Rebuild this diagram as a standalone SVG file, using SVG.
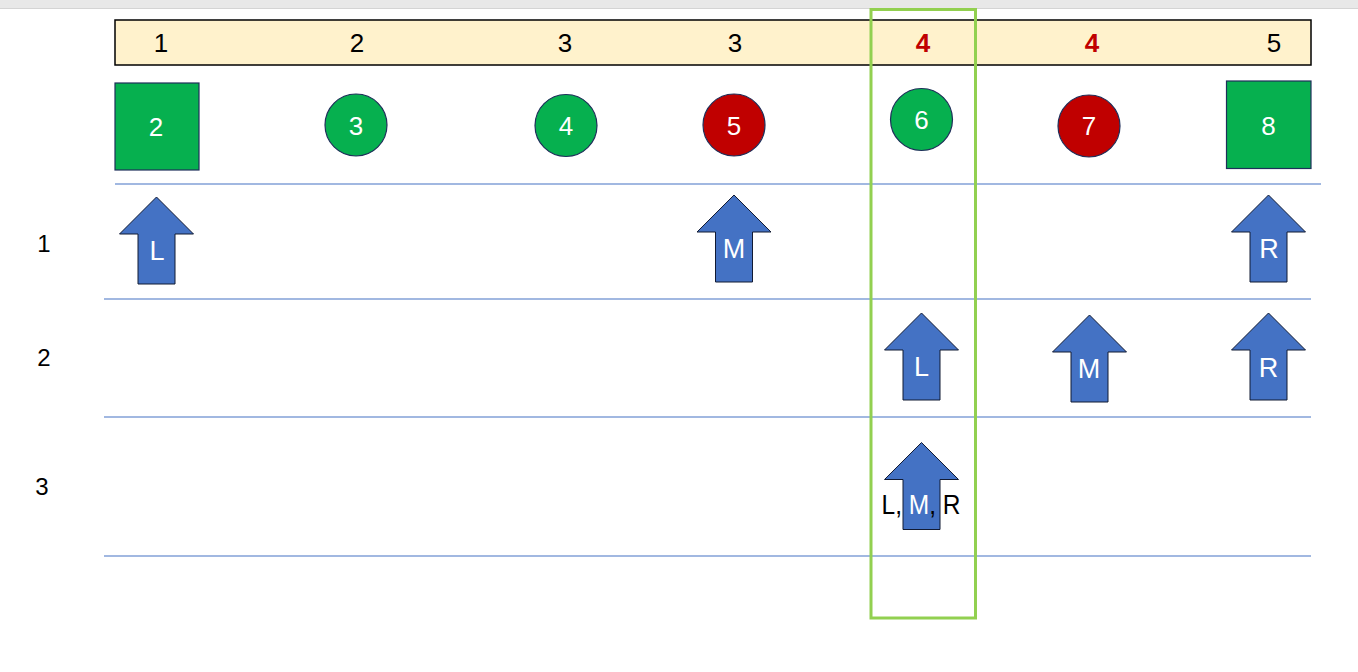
<svg xmlns="http://www.w3.org/2000/svg" width="1358" height="672" viewBox="0 0 1358 672">
  <style>
    .t { font-family: "Liberation Sans", Arial, sans-serif; text-anchor: middle; }
    .hdr { font-size: 26px; fill: #000000; }
    .hdr-red { font-size: 26px; fill: #c00000; font-weight: bold; }
    .row { font-size: 24px; fill: #000000; }
    .nl { font-size: 26px; fill: #ffffff; }
    .al { font-size: 27px; fill: #ffffff; }
    .green { fill: #06b04f; stroke: #1f2f5a; stroke-width: 1.2; }
    .red { fill: #c00000; stroke: #1f2f5a; stroke-width: 1.2; }
    .arrow { fill: #4472c4; stroke: #111a33; stroke-width: 1; }
    .hline { stroke: #4472c4; stroke-width: 1.1; }
  </style>
  <defs>
    <path id="uparrow" d="M0,0 L37,37 L18.5,37 L18.5,87 L-18.5,87 L-18.5,37 L-37,37 Z"/>
  </defs>

  <rect x="0" y="0" width="1358" height="672" fill="#ffffff"/>
  <rect x="0" y="0" width="1358" height="8" fill="#e8e8e8"/>
  <line x1="0" y1="8.5" x2="1358" y2="8.5" stroke="#d4d4d4" stroke-width="1"/>

  <!-- header bar -->
  <g id="header">
    <rect x="115" y="20" width="1196" height="45" fill="#fff2cc" stroke="#000000" stroke-width="1.5"/>
    <text class="t hdr" x="161" y="52">1</text>
    <text class="t hdr" x="357" y="52">2</text>
    <text class="t hdr" x="565" y="52">3</text>
    <text class="t hdr" x="735" y="52">3</text>
    <text class="t hdr-red" x="923" y="52">4</text>
    <text class="t hdr-red" x="1092" y="52">4</text>
    <text class="t hdr" x="1274" y="52">5</text>
  </g>

  <!-- row labels -->
  <g id="row-labels">
    <text class="t row" x="44" y="252">1</text>
    <text class="t row" x="44" y="366">2</text>
    <text class="t row" x="42" y="495">3</text>
  </g>

  <!-- grid lines -->
  <g id="connectors">
    <line class="hline" x1="115" y1="184" x2="1321" y2="184"/>
    <line class="hline" x1="104" y1="299" x2="1311" y2="299"/>
    <line class="hline" x1="104" y1="417" x2="1311" y2="417"/>
    <line class="hline" x1="104" y1="556" x2="1311" y2="556"/>
  </g>

  <!-- nodes -->
  <g id="node-2">
    <rect class="green" x="115" y="83" width="84" height="87"/>
    <text class="t nl" x="156" y="136">2</text>
  </g>
  <g id="node-3">
    <circle class="green" cx="356" cy="125" r="31"/>
    <text class="t nl" x="356" y="135">3</text>
  </g>
  <g id="node-4">
    <circle class="green" cx="566" cy="125.5" r="31"/>
    <text class="t nl" x="566" y="135">4</text>
  </g>
  <g id="node-5">
    <circle class="red" cx="734" cy="125" r="31"/>
    <text class="t nl" x="734" y="135">5</text>
  </g>
  <g id="node-6">
    <circle class="green" cx="921.5" cy="119.5" r="31"/>
    <text class="t nl" x="921.5" y="129">6</text>
  </g>
  <g id="node-7">
    <circle class="red" cx="1089" cy="126" r="31"/>
    <text class="t nl" x="1089" y="135">7</text>
  </g>
  <g id="node-8">
    <rect class="green" x="1226.5" y="81" width="84.5" height="87.5"/>
    <text class="t nl" x="1268.5" y="135">8</text>
  </g>

  <!-- arrows row 1 -->
  <g id="arrow-r1-L">
    <use href="#uparrow" class="arrow" x="156.5" y="197"/>
    <text class="t al" x="157" y="260">L</text>
  </g>
  <g id="arrow-r1-M">
    <use href="#uparrow" class="arrow" x="734" y="195"/>
    <text class="t al" x="734" y="258">M</text>
  </g>
  <g id="arrow-r1-R">
    <use href="#uparrow" class="arrow" x="1268.5" y="195"/>
    <text class="t al" x="1269" y="258">R</text>
  </g>

  <!-- arrows row 2 -->
  <g id="arrow-r2-L">
    <use href="#uparrow" class="arrow" x="921.5" y="313"/>
    <text class="t al" x="921.5" y="376">L</text>
  </g>
  <g id="arrow-r2-M">
    <use href="#uparrow" class="arrow" x="1089.5" y="315"/>
    <text class="t al" x="1089" y="378">M</text>
  </g>
  <g id="arrow-r2-R">
    <use href="#uparrow" class="arrow" x="1268.5" y="313"/>
    <text class="t al" x="1268.5" y="377">R</text>
  </g>

  <!-- arrow row 3 -->
  <g id="arrow-r3-LMR">
    <use href="#uparrow" class="arrow" x="921.5" y="442.5"/>
    <text class="t" x="921" y="514" font-size="27" fill="#000000" textLength="79" lengthAdjust="spacingAndGlyphs">L, <tspan fill="#ffffff">M</tspan>, R</text>
  </g>

  <!-- highlight column -->
  <g id="highlight">
    <rect x="871" y="9.5" width="104.5" height="608.5" fill="none" stroke="#92d050" stroke-width="3"/>
  </g>
</svg>
